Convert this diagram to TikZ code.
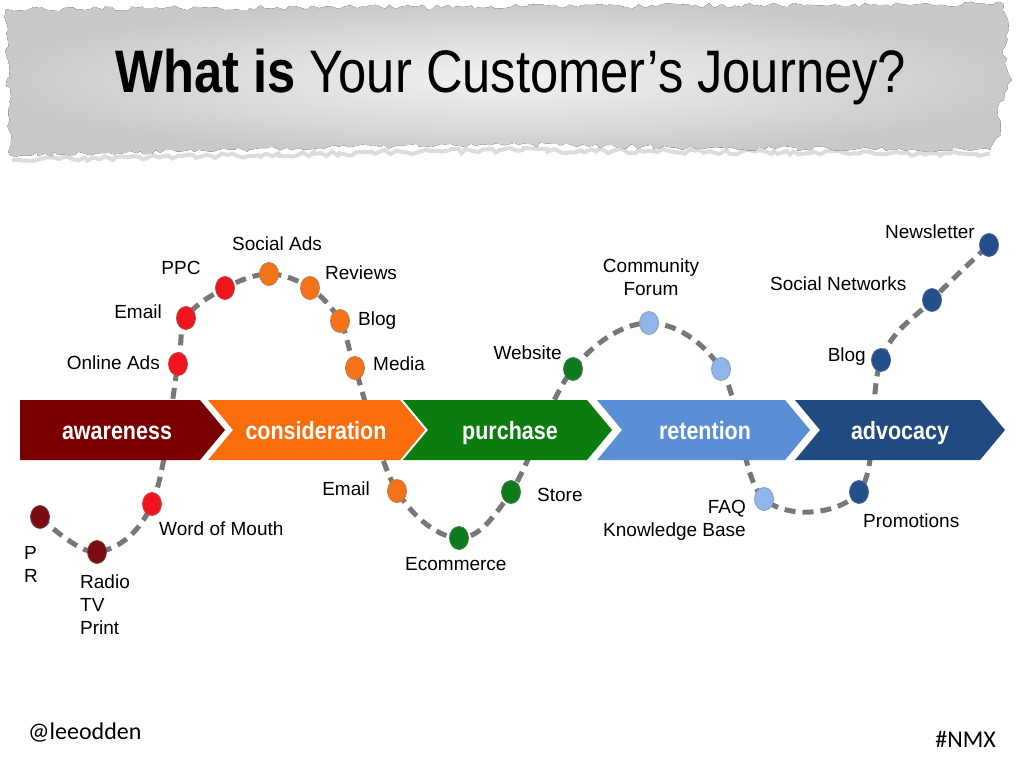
\documentclass[tikz,border=0pt]{standalone}
\usepackage{fontspec}
\usepackage{graphicx}
\setmainfont{Liberation Sans}
\newfontfamily\footfont{Carlito}
\usetikzlibrary{shapes.geometric,decorations.pathmorphing}
\definecolor{cAw}{HTML}{7A0000}
\definecolor{cCo}{HTML}{F96D0C}
\definecolor{cPu}{HTML}{0B7C10}
\definecolor{cRe}{HTML}{5A8FD5}
\definecolor{cAd}{HTML}{204A80}
\definecolor{dDr}{HTML}{7B0C14}
\definecolor{dRed}{HTML}{F0141E}
\definecolor{dOr}{HTML}{F47318}
\definecolor{dGr}{HTML}{0E7A1E}
\definecolor{dLb}{HTML}{8FB6EA}
\definecolor{dDb}{HTML}{244F8D}
\definecolor{pathgray}{HTML}{777777}
\newcommand{\stagefont}[1]{\scalebox{0.86}[1]{\fontsize{25}{28}\selectfont\bfseries #1}}
\tikzset{
  stagetxt/.style={text=white, inner sep=0pt, text height=18pt, text depth=5pt},
  dot/.style={ellipse, minimum width=19pt, minimum height=23pt, inner sep=0pt, draw=#1!55!gray, line width=0.8pt, fill=#1},
  lbl/.style={font=\fontsize{19}{23}\selectfont, inner sep=0pt, text height=14pt, text depth=4pt},
  mlbl/.style={font=\fontsize{19}{23}\selectfont, inner sep=0pt},
  journey/.style={draw=pathgray, line width=5pt, dash pattern=on 11pt off 7pt},
  foot/.style={font=\footfont\fontsize{24}{28}\selectfont, inner sep=0pt},
}
\begin{document}
\begin{tikzpicture}[x=1pt,y=-1pt]
\useasboundingbox (0,0) rectangle (1024,768);
\fill[white] (0,0) rectangle (1024,768);
% torn paper banner
\pgfmathsetseed{11}
\draw[gray!45, line width=4pt, opacity=0.6, decorate, decoration={random steps, segment length=5pt, amplitude=2.5pt}]
  (12,160) -- (500,150) -- (990,154);
\fill[inner color=gray!10, outer color=gray!42, decorate, decoration={random steps, segment length=5pt, amplitude=2.5pt}]
  (6,9) -- (1004,4) -- (1009,30) -- (1003,55) -- (1012,80) -- (998,110) -- (1001,135) -- (990,150)
  -- (700,148) -- (500,144) -- (300,148) -- (10,155) -- cycle;
\node[anchor=base west, inner sep=0pt] (title) at (115,92)
  {\scalebox{0.845}[1]{\fontsize{60}{66}\selectfont\textbf{What is} Your Customer’s Journey?}};
% journey coordinates
\coordinate (pPR) at (40,517);
\coordinate (pRadio) at (97,552);
\coordinate (pWoM) at (152,504);
\coordinate (pOnline) at (178,364);
\coordinate (pEmailA) at (186,318);
\coordinate (pPPC) at (225,288);
\coordinate (pSocAds) at (269,274);
\coordinate (pReviews) at (310,288);
\coordinate (pBlogA) at (340,321);
\coordinate (pMedia) at (355,368);
\coordinate (pEmailB) at (397,491);
\coordinate (pEcom) at (459,538);
\coordinate (pStore) at (511,492);
\coordinate (pWeb) at (573,369);
\coordinate (pComm) at (649,323);
\coordinate (pRetB) at (721,369);
\coordinate (pFAQ) at (764,499);
\coordinate (pProm) at (859,492);
\coordinate (pBlogB) at (881,360);
\coordinate (pSocNet) at (932,300);
\coordinate (pNews) at (989,245);
\draw[journey] plot[smooth, tension=0.6] coordinates {(pPR) (pRadio) (pWoM) (pOnline) (pEmailA) (pPPC) (pSocAds) (pReviews) (pBlogA) (pMedia) (pEmailB) (pEcom) (pStore) (pWeb) (pComm) (pRetB) (pFAQ) (pProm) (pBlogB) (pSocNet) (pNews)};
% stages
\fill[cAw] (20,400) -- (200,400) -- (225,430) -- (200,460) -- (20,460) -- cycle;
\fill[cCo] (208,400) -- (400,400) -- (425,430) -- (400,460) -- (208,460) -- (233,430) -- cycle;
\fill[cPu] (403,400) -- (587,400) -- (612,430) -- (587,460) -- (403,460) -- (428,430) -- cycle;
\fill[cRe] (597,400) -- (785,400) -- (810,430) -- (785,460) -- (597,460) -- (622,430) -- cycle;
\fill[cAd] (795,400) -- (980,400) -- (1005,430) -- (980,460) -- (795,460) -- (820,430) -- cycle;
\node[stagetxt] (sAw) at (117,433) {\stagefont{awareness}};
\node[stagetxt] (sCo) at (316,433) {\stagefont{consideration}};
\node[stagetxt] (sPu) at (510,433) {\stagefont{purchase}};
\node[stagetxt] (sRe) at (705,433) {\stagefont{retention}};
\node[stagetxt] (sAd) at (900,433) {\stagefont{advocacy}};
% dots
\node[dot=dDr] (dPR) at (pPR) {};
\node[dot=dDr] (dRadio) at (pRadio) {};
\node[dot=dRed] (dWoM) at (pWoM) {};
\node[dot=dRed] (dOnline) at (pOnline) {};
\node[dot=dRed] (dEmailA) at (pEmailA) {};
\node[dot=dRed] (dPPC) at (pPPC) {};
\node[dot=dOr] (dSocAds) at (pSocAds) {};
\node[dot=dOr] (dReviews) at (pReviews) {};
\node[dot=dOr] (dBlogA) at (pBlogA) {};
\node[dot=dOr] (dMedia) at (pMedia) {};
\node[dot=dOr] (dEmailB) at (pEmailB) {};
\node[dot=dGr] (dEcom) at (pEcom) {};
\node[dot=dGr] (dStore) at (pStore) {};
\node[dot=dGr] (dWeb) at (pWeb) {};
\node[dot=dLb] (dComm) at (pComm) {};
\node[dot=dLb] (dRetB) at (pRetB) {};
\node[dot=dLb] (dFAQ) at (pFAQ) {};
\node[dot=dDb] (dProm) at (pProm) {};
\node[dot=dDb] (dBlogB) at (pBlogB) {};
\node[dot=dDb] (dSocNet) at (pSocNet) {};
\node[dot=dDb] (dNews) at (pNews) {};
% labels
\node[mlbl, anchor=west, align=left] (lPR) at (24,564) {P\\R};
\node[mlbl, anchor=west, align=left] (lRadio) at (80,605) {Radio\\TV\\Print};
\node[lbl, anchor=west] (lWoM) at (159,530) {Word of Mouth};
\node[lbl, anchor=east] (lOnline) at (160,364) {Online Ads};
\node[lbl, anchor=east] (lEmailA) at (162,313) {Email};
\node[lbl] (lPPC) at (181,269) {PPC};
\node[lbl] (lSocAds) at (277,245) {Social Ads};
\node[lbl, anchor=west] (lReviews) at (325,274) {Reviews};
\node[lbl, anchor=west] (lBlogA) at (358,320) {Blog};
\node[lbl, anchor=west] (lMedia) at (373,365) {Media};
\node[lbl, anchor=east] (lEmailB) at (370,490) {Email};
\node[lbl, anchor=west] (lEcom) at (405,565) {Ecommerce};
\node[lbl, anchor=west] (lStore) at (537,496) {Store};
\node[lbl, anchor=east] (lWeb) at (562,354) {Website};
\node[mlbl, align=center] (lComm) at (651,277) {Community\\Forum};
\node[mlbl, anchor=east, align=right] (lFAQ) at (746,520) {FAQ\\Knowledge Base};
\node[lbl, anchor=west] (lProm) at (863,522) {Promotions};
\node[lbl, anchor=east] (lBlogB) at (866,356) {Blog};
\node[lbl, anchor=west] (lSocNet) at (770,285) {Social Networks};
\node[lbl, anchor=east] (lNews) at (975,233) {Newsletter};
% footer
\node[foot, anchor=west] (fLeft) at (28,733) {@leeodden};
\node[foot, anchor=east] (fRight) at (996,739) {\#NMX};
\end{tikzpicture}
\end{document}
